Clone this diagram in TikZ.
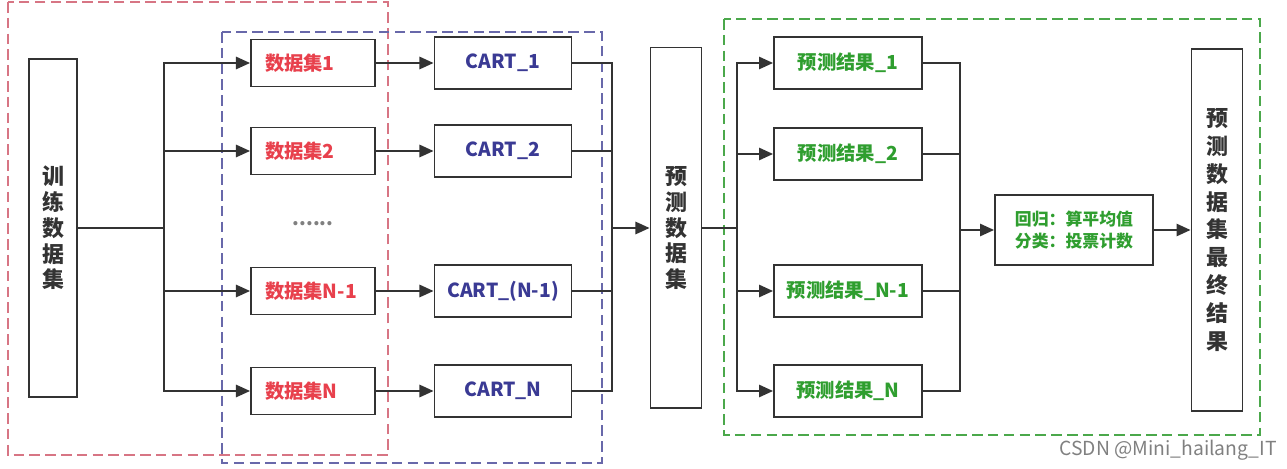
\documentclass[tikz,border=0pt]{standalone}
\usepackage{fontspec}
\setmainfont{Noto Sans CJK SC}
\usepackage{tikz}
\usetikzlibrary{arrows.meta}

\definecolor{boxline}{HTML}{333333}
\definecolor{setred}{HTML}{E8404C}
\definecolor{cartblue}{HTML}{3A3A94}
\definecolor{resgreen}{HTML}{2F9E2F}
\definecolor{redframe}{HTML}{D77584}
\definecolor{blueframe}{HTML}{6868AA}
\definecolor{greenframe}{HTML}{4BA84B}

\begin{document}
\begin{tikzpicture}[x=0.02cm,y=-0.02cm,
                    font=\fontsize{11}{13}\selectfont\bfseries]
            \useasboundingbox (0,0) rectangle (1287,469);

            % dashed groups
            \begin{scope}[line width=1.1pt, dash pattern=on 6pt off 3pt]
                \draw[draw=redframe] (8,2) rectangle (388,455);
                \draw[draw=blueframe] (222,32) rectangle (602,463);
                \draw[draw=greenframe] (724,19) rectangle (1260,435);
            \end{scope}

            \begin{scope}[every node/.style={rectangle,draw=boxline,line width=1.1pt,
                                             fill=white,inner sep=0pt,align=center}]
                \node[minimum width=0.96cm,minimum height=6.76cm,
                      font=\fontsize{12.5}{14.7}\selectfont\bfseries,text=boxline]
                      (train) at (53,228) {训\\练\\数\\据\\集};

                \begin{scope}[every node/.append style={minimum height=0.94cm,inner xsep=0.28cm,
                                                        text width=1.92cm,align=left,text=setred}]
                    \node (d1) at (313,63) {数据集1};
                    \node (d2) at (313,151) {数据集2};
                    \node (d3) at (313,291) {数据集N-1};
                    \node (d4) at (313,391) {数据集N};
                \end{scope}

                \node[minimum width=2.74cm,minimum height=1.04cm,text=cartblue] (c1) at (503,63) {CART\_1};
                \node[minimum width=2.74cm,minimum height=1.04cm,text=cartblue] (c2) at (503,151) {CART\_2};
                \node[minimum width=2.74cm,minimum height=1.04cm,text=cartblue] (c3) at (503,291) {CART\_(N-1)};
                \node[minimum width=2.74cm,minimum height=1.04cm,text=cartblue] (c4) at (503,391) {CART\_N};

                \node[minimum width=1.02cm,minimum height=7.22cm,
                      font=\fontsize{12.5}{14.7}\selectfont\bfseries,text=boxline]
                      (pred) at (676,228) {预\\测\\数\\据\\集};

                \node[minimum width=2.96cm,minimum height=1.04cm,text=resgreen] (r1) at (848,63) {预测结果\_1};
                \node[minimum width=2.96cm,minimum height=1.04cm,text=resgreen] (r2) at (848,154) {预测结果\_2};
                \node[minimum width=2.96cm,minimum height=1.04cm,text=resgreen] (r3) at (848,291) {预测结果\_N-1};
                \node[minimum width=2.96cm,minimum height=1.04cm,text=resgreen] (r4) at (848,391) {预测结果\_N};

                \node[minimum width=3.16cm,minimum height=1.4cm,align=left,
                      font=\fontsize{9.6}{12.5}\selectfont\bfseries,text=resgreen]
                      (agg) at (1074,230) {回归：算平均值\\分类：投票计数};

                \node[minimum width=1.02cm,minimum height=7.24cm,
                      font=\fontsize{12.5}{15.9}\selectfont\bfseries,text=boxline]
                      (final) at (1217,230) {预\\测\\数\\据\\集\\最\\终\\结\\果};
            \end{scope}

            \node[text=gray] (dots) at (313,224) {......};

            % connectors
            \coordinate (split1) at (164,228);
            \coordinate (merge1) at (612,228);
            \coordinate (split2) at (737,228);
            \coordinate (merge2) at (960,230);

            \begin{scope}[draw=boxline,line width=1.1pt,
                          >={Triangle[length=8pt,width=7pt,boxline]}]
                \foreach \i in {1,2,3,4} {
                    \draw[->] (train.east) -- (split1) |- (d\i.west);
                    \draw[->] (d\i.east) -- (c\i.west);
                    \draw (c\i.east) -| (merge1);
                    \draw[->] (pred.east |- split2) -- (split2) |- (r\i.west);
                    \draw (r\i.east) -| (merge2);
                }
                \draw[->] (merge1) -- (pred.west |- merge1);
                \draw[->] (merge2) -- (agg.west);
                \draw[->] (agg.east) -- (final.west |- agg.east);
            \end{scope}

            \node[font=\fontsize{11}{13}\selectfont\mdseries,text=gray] (mark) at (1168,450) {CSDN @Mini\_hailang\_IT};
\end{tikzpicture}
\end{document}
